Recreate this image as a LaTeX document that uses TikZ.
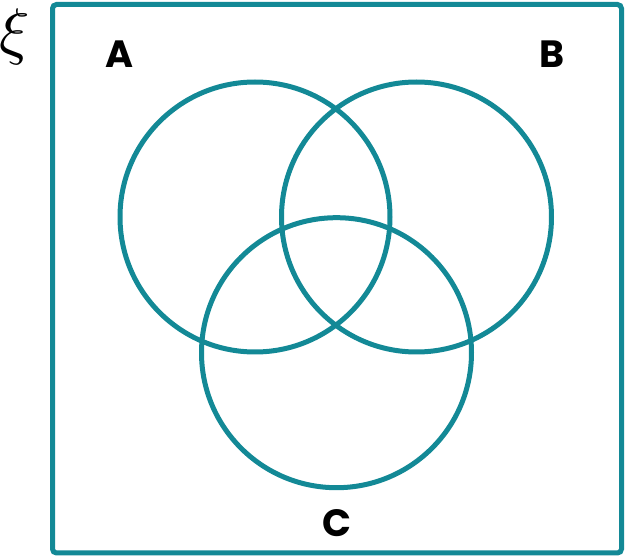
\documentclass[tikz,border=0pt]{standalone}
\usepackage{graphicx}
\usepackage{fontspec}
\newfontfamily\labelfont{Poppins}[UprightFont=* Bold]
\definecolor{teal1}{RGB}{19,137,150}
\begin{document}
\begin{tikzpicture}[x=1pt,y=-1pt,
  setline/.style={draw=teal1,line width=5pt},
  setlabel/.style={font=\labelfont\fontsize{38}{40}\selectfont,inner sep=0pt,anchor=base},
  ]
\useasboundingbox (0,0) rectangle (625,556);
\draw[setline,rounded corners=4pt] (52.5,4.5) rectangle (621.5,553);
\draw[setline] (255,217) circle[radius=135];
\draw[setline] (416.5,217) circle[radius=135];
\draw[setline] (336.5,352.7) circle[radius=135];
\node[setlabel] (A) at (120,68) {A};
\node[setlabel] (B) at (552,68) {B};
\node[setlabel] (C) at (337,537) {C};
\node[inner sep=0pt,anchor=base] (xi) at (15,53) {\scalebox{6.3}{$\xi$}};
\end{tikzpicture}
\end{document}
